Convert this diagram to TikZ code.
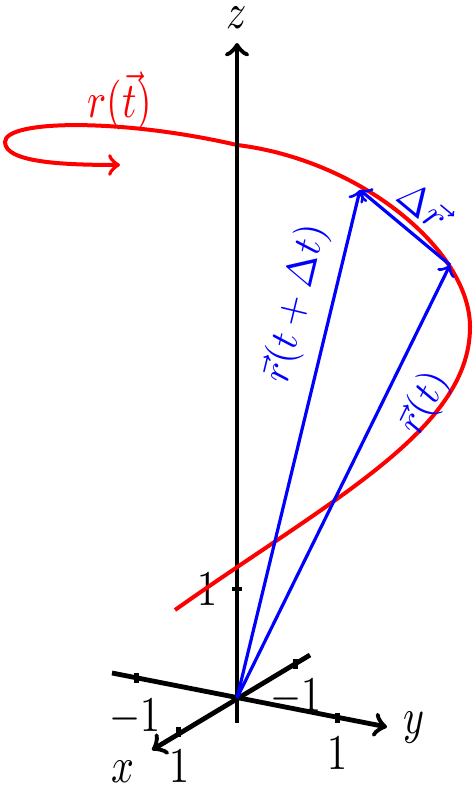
\documentclass[tikz,border=0pt]{standalone}
\begin{document}
\begin{tikzpicture}[x=0.25pt,y=0.25pt]
    \useasboundingbox (0,0) rectangle (474,790);
    \tikzset{axis/.style={line width=1.2pt}, vec/.style={blue, thick, ->}, lab/.style={yscale=1.25, inner sep=0.5pt}}
    \coordinate (O) at (237,92);
    \coordinate (P1) at (450,525);
    \coordinate (P2) at (360,600);
    \coordinate (zlow) at (237,67);
    \coordinate (ztop) at (237,747);
    \coordinate (ylow) at (112,117);
    \coordinate (ytop) at (387,63);
    \coordinate (xlow) at (310,135);
    \coordinate (xtop) at (152,40);
    \draw[axis, ->] (zlow) -- (ztop);
    \draw[axis, ->] (ylow) -- (ytop);
    \draw[axis, ->] (xlow) -- (xtop);
    \node[lab] (zlab) at (237,772) {$z$};
    \node[lab] (ylab) at (414,62) {$y$};
    \node[lab] (xlab) at (123,18) {$x$};
    \foreach \a/\b in {337.6/72, 136.4/112, 178.6/57.6, 295.4/126.4}
      \draw[axis] (\a,\b-5) -- (\a,\b+5);
    \draw[axis] (232,201) -- (242,201);
    \node[lab] (zone) at (207,201) {$1$};
    \node[lab] (yone) at (337,37) {$1$};
    \node[lab] (ymone) at (135,73) {$-1$};
    \node[lab] (xone) at (179,24) {$1$};
    \node[lab] (xmone) at (296,93) {$-1$};
    \draw[red, line width=1pt, ->] (175,180) .. controls (330,290) and (470,360) .. (470,463)
      .. controls (470,540) and (360,630) .. (237,645)
      .. controls (120,672) and (5,670) .. (5,648)
      .. controls (5,628) and (60,625) .. (120,625);
    \draw[axis] (237,635) -- (237,655);
    \node[red, lab] (rlab) at (120,689) {$r(\vec{t})$};
    \draw[vec] (O) -- (P1) node[pos=0.72, sloped, below=1pt] (rt) {$\vec r(t)$};
    \draw[vec] (O) -- (P2) node[pos=0.76, sloped, above] (rdt) {$\vec r(t+\Delta t)$};
    \draw[vec] (P1) -- (P2) node[midway, sloped, above] (dr) {$\Delta\vec r$};
  \end{tikzpicture}
\end{document}
